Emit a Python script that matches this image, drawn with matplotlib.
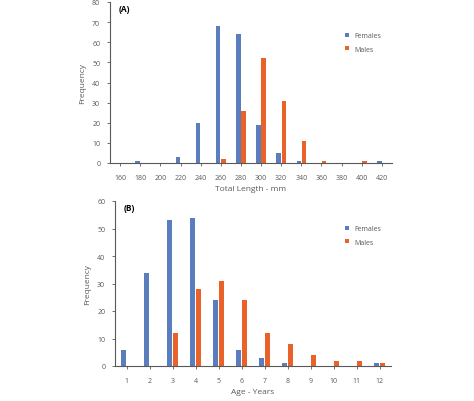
import matplotlib
matplotlib.use("Agg")
import matplotlib.pyplot as plt
import numpy as np

plt.rcParams['font.family'] = ['Open Sans', 'DejaVu Sans']

length_cats = ["160", "180", "200", "220", "240", "260", "280", "300", "320", "340", "360", "380", "400", "420"]
length_females = [0, 1, 0, 3, 20, 68, 64, 19, 5, 1, 0, 0, 0, 1]
length_males = [0, 0, 0, 0, 0, 2, 26, 52, 31, 11, 1, 0, 1, 0]

age_cats = ["1", "2", "3", "4", "5", "6", "7", "8", "9", "10", "11", "12"]
age_females = [6, 34, 53, 54, 24, 6, 3, 1, 0, 0, 0, 1]
age_males = [0, 0, 12, 28, 31, 24, 12, 8, 4, 2, 2, 1]

BLUE = '#5a7ebd'
ORANGE = '#e8622a'
GREY = '#595959'

W, H = 474, 402
fig = plt.figure(figsize=(W / 100, H / 100), dpi=100)


def px_axes(left, top, right, bottom):
    return fig.add_axes([left / W, 1 - bottom / H, (right - left) / W, (bottom - top) / H])


def draw(ax, cats, fem, mal, ymax, xlabel, tag, bw, leg_xy):
    x = np.arange(len(cats))
    off = bw / 2 + 0.02
    ax.bar(x - off, fem, width=bw, color=BLUE, label='Females')
    ax.bar(x + off, mal, width=bw, color=ORANGE, label='Males')
    ax.set_xlim(-0.5, len(cats) - 0.5)
    ax.set_ylim(0, ymax)
    ax.set_yticks(np.arange(0, ymax + 1, 10))
    ax.set_xticks(x)
    ax.set_xticklabels(cats)
    for s in ['top', 'right']:
        ax.spines[s].set_visible(False)
    for s in ['left', 'bottom']:
        ax.spines[s].set_color(GREY)
        ax.spines[s].set_linewidth(0.8)
    ax.tick_params(axis='both', colors=GREY, labelsize=5, length=2, width=0.6, pad=5)
    ax.tick_params(axis='x', pad=6)
    ax.set_xlabel(xlabel, fontsize=6, color=GREY, labelpad=3)
    ax.set_ylabel('Frequency', fontsize=6, color=GREY, labelpad=4)
    ax.text(0.03, 0.985, tag, transform=ax.transAxes, fontsize=6, fontweight='bold',
            ha='left', va='top', color='black')
    ax.legend(loc='upper left', bbox_to_anchor=leg_xy, frameon=False, fontsize=5,
              handlelength=0.6, handleheight=0.6, labelspacing=0.9, handletextpad=0.8,
              labelcolor=GREY)


ax1 = px_axes(110, 3, 392, 164)
draw(ax1, length_cats, length_females, length_males, 80, 'Total Length - mm', '(A)', 0.22, (0.81, 0.85))

ax2 = px_axes(115, 202, 391, 367)
draw(ax2, age_cats, age_females, age_males, 60, 'Age - Years', '(B)', 0.23, (0.81, 0.89))

fig.savefig('out.png', dpi=100)
